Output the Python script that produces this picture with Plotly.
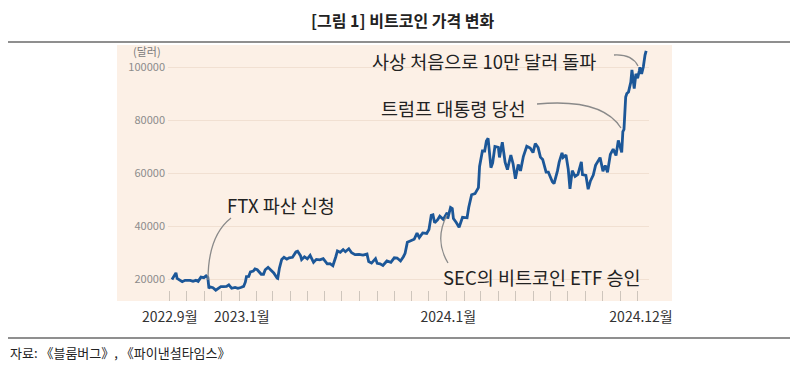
import plotly.graph_objects as go

# ---------------- data ----------------
DATES = [
    "2022-09-05", "2022-09-09", "2022-09-12", "2022-09-14", "2022-09-19", "2022-09-23", "2022-09-28",
    "2022-10-03", "2022-10-07", "2022-10-12", "2022-10-17", "2022-10-21", "2022-10-26", "2022-10-31",
    "2022-11-04", "2022-11-07", "2022-11-09", "2022-11-11", "2022-11-16", "2022-11-21", "2022-11-26",
    "2022-11-30", "2022-12-05", "2022-12-10", "2022-12-14", "2022-12-19", "2022-12-25", "2022-12-30",
    "2023-01-04", "2023-01-09", "2023-01-12", "2023-01-14", "2023-01-18", "2023-01-21", "2023-01-26",
    "2023-01-29", "2023-02-02", "2023-02-09", "2023-02-13", "2023-02-16", "2023-02-21", "2023-02-26",
    "2023-03-03", "2023-03-09", "2023-03-10", "2023-03-13", "2023-03-17", "2023-03-21", "2023-03-26",
    "2023-03-30", "2023-04-05", "2023-04-11", "2023-04-14", "2023-04-19", "2023-04-21", "2023-04-26",
    "2023-05-01", "2023-05-06", "2023-05-12", "2023-05-17", "2023-05-23", "2023-05-29", "2023-06-05",
    "2023-06-10", "2023-06-15", "2023-06-20", "2023-06-23", "2023-06-28", "2023-07-03", "2023-07-07",
    "2023-07-13", "2023-07-18", "2023-07-24", "2023-07-31", "2023-08-07", "2023-08-14", "2023-08-17",
    "2023-08-22", "2023-08-29", "2023-09-01", "2023-09-06", "2023-09-11", "2023-09-18", "2023-09-25",
    "2023-10-01", "2023-10-06", "2023-10-12", "2023-10-17", "2023-10-20", "2023-10-24", "2023-10-30",
    "2023-11-05", "2023-11-10", "2023-11-14", "2023-11-20", "2023-11-27", "2023-12-01", "2023-12-05",
    "2023-12-08", "2023-12-11", "2023-12-16", "2023-12-20", "2023-12-26", "2024-01-02", "2024-01-03",
    "2024-01-08", "2024-01-11", "2024-01-13", "2024-01-18", "2024-01-23", "2024-01-29", "2024-02-02",
    "2024-02-06", "2024-02-09", "2024-02-14", "2024-02-20", "2024-02-26", "2024-02-28", "2024-03-04",
    "2024-03-08", "2024-03-11", "2024-03-14", "2024-03-19", "2024-03-22", "2024-03-26", "2024-04-01",
    "2024-04-03", "2024-04-08", "2024-04-13", "2024-04-17", "2024-04-23", "2024-04-27", "2024-05-01",
    "2024-05-06", "2024-05-10", "2024-05-15", "2024-05-21", "2024-05-27", "2024-06-01", "2024-06-05",
    "2024-06-10", "2024-06-14", "2024-06-18", "2024-06-24", "2024-06-28", "2024-07-05", "2024-07-08",
    "2024-07-14", "2024-07-17", "2024-07-22", "2024-07-24", "2024-07-29", "2024-08-02", "2024-08-05",
    "2024-08-09", "2024-08-14", "2024-08-19", "2024-08-25", "2024-08-27", "2024-09-02", "2024-09-06",
    "2024-09-10", "2024-09-15", "2024-09-19", "2024-09-27", "2024-10-02", "2024-10-06", "2024-10-10",
    "2024-10-15", "2024-10-20", "2024-10-25", "2024-10-29", "2024-11-03", "2024-11-04", "2024-11-06",
    "2024-11-08", "2024-11-11", "2024-11-13", "2024-11-16", "2024-11-20", "2024-11-22", "2024-11-26",
    "2024-11-29", "2024-12-02", "2024-12-05", "2024-12-06", "2024-12-09", "2024-12-12", "2024-12-15",
    "2024-12-17",
]
PRICES = [
    19800, 21300, 22300, 20200, 19400, 19000, 19500,
    19600, 19500, 19100, 19500, 19100, 20700, 20500,
    21200, 20600, 16500, 17000, 16700, 15800, 16500,
    17100, 17100, 17200, 17800, 16500, 16800, 16500,
    16800, 17200, 18800, 20900, 21000, 22700, 23000,
    23800, 23500, 21800, 21800, 23500, 24400, 23500,
    22300, 20300, 20200, 24100, 27400, 28200, 27500,
    28000, 28200, 30200, 30500, 28800, 27300, 28400,
    27600, 28900, 26300, 27400, 27200, 27700, 25700,
    25800, 25000, 28300, 30600, 30100, 31100, 30300,
    31400, 29900, 29200, 29300, 29000, 29400, 26600,
    26000, 27700, 25900, 25700, 25100, 26800, 26300,
    28000, 27900, 26800, 28400, 29700, 33900, 34500,
    35000, 37300, 35600, 37400, 37200, 38700, 44000,
    44200, 41200, 42300, 43700, 42500, 45000, 42800,
    47000, 46600, 42800, 41300, 39500, 43300, 43200,
    43100, 47100, 51800, 52200, 54500, 62500, 68300,
    68300, 72100, 73100, 62000, 63800, 70000, 69700,
    65900, 71600, 64000, 61300, 66800, 63400, 57800,
    63200, 60800, 66200, 70100, 69400, 67700, 71100,
    69600, 66000, 65100, 60300, 60300, 56700, 56000,
    60800, 64100, 67600, 65900, 66800, 61400, 54000,
    60900, 58700, 59500, 64200, 59400, 59100, 53900,
    57000, 59200, 62900, 65800, 60700, 62800, 60300,
    67000, 69000, 66600, 72300, 68700, 67800, 75600,
    76500, 88700, 90000, 90600, 94300, 98900, 91900,
    97400, 95800, 98600, 99900, 97400, 100000, 104500,
    106100,
]

Y_TICKS = [20000, 40000, 60000, 80000, 100000]
X_TICK_DATES = ["2022-09-01", "2023-01-06", "2024-01-04", "2024-12-08"]
X_TICK_TEXT = ["2022.9월", "2023.1월", "2024.1월", "2024.12월"]

NOTES = ["FTX 파산 신청", "SEC의 비트코인 ETF 승인", "트럼프 대통령 당선", "사상 처음으로 10만 달러 돌파"]
TITLE = "[그림 1] 비트코인 가격 변화"
SOURCE = "자료: 《블룸버그》, 《파이낸셜타임스》"
UNIT = "(달러)"

# ---------------- layout helpers (page pixel -> paper) ----------------
# the page body has an 8px margin, so the figure starts at page (8, 8)
OFF = 8
W, H = 800 - OFF, 366 - OFF


def fx(px):
    return (px - OFF) / W


def fy(py):
    return 1 - (py - OFF) / H


FONT = "Noto Sans CJK KR"
PEACH = "#fcf0e6"
GRID = "#f1e0d2"
LINE = "#1c5798"

fig = go.Figure()
fig.add_trace(go.Scatter(
    x=DATES, y=PRICES, mode="lines",
    line=dict(color=LINE, width=2.8, shape="linear"),
    hoverinfo="skip", showlegend=False,
))

shapes = [
    # peach panel
    dict(type="rect", xref="paper", yref="paper", x0=fx(117), x1=fx(672), y0=fy(301), y1=fy(45),
         fillcolor=PEACH, line=dict(width=0), layer="below"),
    # top and bottom rules
    dict(type="line", xref="paper", yref="paper", x0=fx(8), x1=fx(790), y0=fy(42), y1=fy(42),
         line=dict(color="#6a6a6a", width=1.5)),
    dict(type="line", xref="paper", yref="paper", x0=fx(8), x1=fx(790), y0=fy(338), y1=fy(338),
         line=dict(color="#6a6a6a", width=1.5)),
]


def curve(p0, c, p1):
    return (f"M {fx(p0[0])},{fy(p0[1])} Q {fx(c[0])},{fy(c[1])} {fx(p1[0])},{fy(p1[1])}")


for path in [
    curve((231, 218), (208, 236), (208, 280)),
    curve((448, 263), (434, 240), (447, 215)),
    curve((537, 104), (602, 98), (621, 128)),
    curve((614, 55), (632, 54), (638, 66)),
]:
    shapes.append(dict(type="path", xref="paper", yref="paper", path=path,
                       line=dict(color="#8a8a8a", width=1.3)))

annotations = [
    dict(text=TITLE, x=fx(403), y=fy(20), xref="paper", yref="paper", showarrow=False,
         font=dict(family=FONT, size=16, color="#222222", weight="bold"), xanchor="center", yanchor="middle"),
    dict(text=SOURCE, x=fx(8), y=fy(352), xref="paper", yref="paper", showarrow=False,
         font=dict(family=FONT, size=13, color="#222222"), xanchor="left", yanchor="middle"),
    dict(text=UNIT, x=fx(147), y=fy(60), xref="paper", yref="paper", showarrow=False,
         font=dict(family=FONT, size=11, color="#7a7a7a"), xanchor="center", yanchor="bottom",
         borderpad=0),
]
note_pos = [(281, 205), (542, 277), (453, 108), (484, 61)]
for txt, (px, py) in zip(NOTES, note_pos):
    annotations.append(dict(text=txt, x=fx(px), y=fy(py), xref="paper", yref="paper", showarrow=False,
                            font=dict(family=FONT, size=18.5, color="#222222"),
                            xanchor="center", yanchor="middle"))

fig.update_layout(
    width=W, height=H,
    margin=dict(l=0, r=0, t=0, b=0),
    paper_bgcolor="white",
    plot_bgcolor="rgba(0,0,0,0)",
    shapes=shapes,
    annotations=annotations,
    showlegend=False,
    xaxis=dict(
        type="date",
        domain=[fx(168), fx(649)],
        range=["2022-08-29", "2024-12-22"],
        tickmode="array", tickvals=X_TICK_DATES, ticktext=X_TICK_TEXT,
        ticks="", showgrid=False, showline=False, zeroline=False,
        tickfont=dict(family=FONT, size=14, color="#333333"),
        ticklabelstandoff=6,
        automargin=False,
        minor=dict(ticks="inside", ticklen=10, tickcolor="#cec5bc", tickwidth=1,
                   dtick="M1", tick0="2022-09-01", showgrid=False),
    ),
    yaxis=dict(
        domain=[fy(301), fy(45)],
        range=[11698, 108302],
        tickmode="array", tickvals=Y_TICKS, tickformat="d",
        ticks="", showgrid=True, gridcolor=GRID, gridwidth=1,
        showline=False, zeroline=False,
        tickfont=dict(family=FONT, size=11, color="#8c8c8c"),
        ticklabelstandoff=2,
        automargin=False,
    ),
)

fig.write_html("out.html")
